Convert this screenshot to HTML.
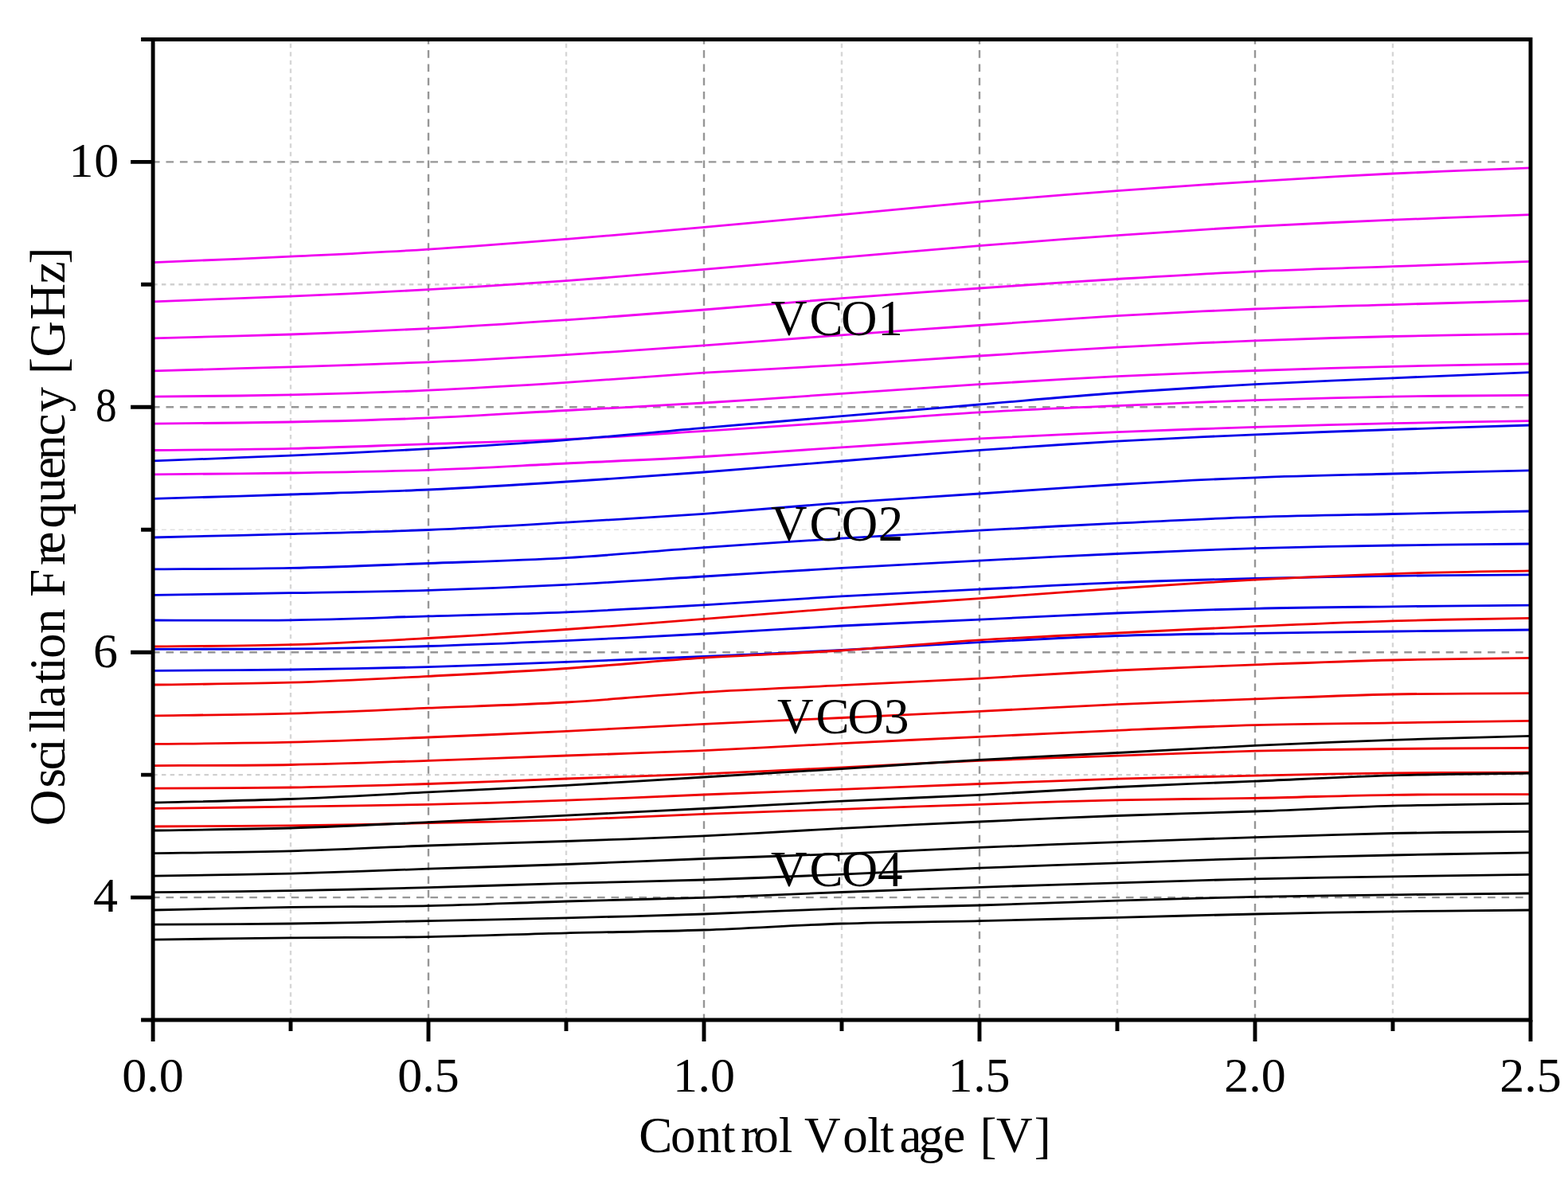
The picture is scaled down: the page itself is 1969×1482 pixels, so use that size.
<!DOCTYPE html>
<html><head><meta charset="utf-8"><title>VCO tuning curves</title>
<style>html,body{margin:0;padding:0;background:#fff;overflow:hidden;}svg{display:block;}text{font-family:"Liberation Serif","Times New Roman",serif;fill:#000;}</style></head><body>
<svg width="1969" height="1482" viewBox="0 0 1969 1482">
<rect width="1969" height="1482" fill="#fff"/>
<g stroke="#d6d6d6" stroke-width="2.4" stroke-dasharray="5.5 4.95" fill="none"><line x1="365" y1="1283" x2="365" y2="49.5"/><line x1="711" y1="1283" x2="711" y2="49.5"/><line x1="1057" y1="1283" x2="1057" y2="49.5"/><line x1="1403" y1="1283" x2="1403" y2="49.5"/><line x1="1749" y1="1283" x2="1749" y2="49.5"/></g>
<g stroke="#d0d0d0" stroke-width="2.4" stroke-dasharray="5.5 5.22" fill="none"><line x1="192.2" y1="973.1" x2="1922" y2="973.1"/><line x1="192.2" y1="357.3" x2="1922" y2="357.3"/></g>
<line x1="192.2" y1="665.2" x2="1922" y2="665.2" stroke="#d2d2d2" stroke-width="1" stroke-dasharray="6 4.72"/>
<g stroke="#969696" stroke-width="2.4" stroke-dasharray="9.6 7.69" fill="none"><line x1="538" y1="1283" x2="538" y2="49.5"/><line x1="884" y1="1283" x2="884" y2="49.5"/><line x1="1230" y1="1283" x2="1230" y2="49.5"/><line x1="1576" y1="1283" x2="1576" y2="49.5"/></g>
<g stroke="#969696" stroke-width="2.4" stroke-dasharray="9.6 7.87" fill="none"><line x1="191" y1="1127.1" x2="1922" y2="1127.1"/><line x1="191" y1="819.2" x2="1922" y2="819.2"/><line x1="191" y1="511.3" x2="1922" y2="511.3"/><line x1="191" y1="203.4" x2="1922" y2="203.4"/></g>
<g fill="none" stroke="#f000f0" stroke-width="2.8" stroke-linejoin="round"><path d="M192.1,329.6C220.9,328.4 307.3,324.9 365,322.2C422.7,319.4 480.3,316.8 538,313.1C595.7,309.5 653.3,304.9 711,300.3C768.7,295.7 826.3,290.5 884,285.4C941.7,280.3 999.3,274.9 1057,269.6C1114.7,264.3 1172.3,258.4 1230,253.4C1287.7,248.4 1345.3,243.9 1403,239.6C1460.7,235.3 1518.3,231.4 1576,227.8C1633.7,224.2 1691.3,220.8 1749,218C1806.7,215.2 1893.2,212.1 1922,210.9"/><path d="M192.1,378.8C220.9,377.7 307.3,374.6 365,372.1C422.7,369.6 480.3,366.9 538,363.7C595.7,360.4 653.3,356.8 711,352.6C768.7,348.4 826.3,343.3 884,338.4C941.7,333.5 999.3,328.2 1057,323.3C1114.7,318.4 1172.3,313.3 1230,308.7C1287.7,304.1 1345.3,299.7 1403,295.6C1460.7,291.6 1518.3,287.6 1576,284.4C1633.7,281.2 1691.3,278.7 1749,276.2C1806.7,273.7 1893.2,270.7 1922,269.6"/><path d="M192.1,424.8C220.9,424 307.3,422 365,420C422.7,418 480.3,415.6 538,412.6C595.7,409.6 653.3,405.7 711,401.8C768.7,397.9 826.3,393.5 884,389C941.7,384.5 999.3,379.1 1057,374.6C1114.7,370.1 1172.3,366 1230,362C1287.7,358 1345.3,354 1403,350.5C1460.7,347 1518.3,343.4 1576,340.8C1633.7,338.2 1691.3,336.8 1749,334.7C1806.7,332.6 1893.2,329.4 1922,328.4"/><path d="M192.1,465.8C220.9,465 307.3,462.6 365,460.8C422.7,459 480.3,457.3 538,454.8C595.7,452.3 653.3,449.1 711,445.6C768.7,442.1 826.3,437.9 884,433.8C941.7,429.7 999.3,425 1057,420.8C1114.7,416.6 1172.3,412.5 1230,408.5C1287.7,404.5 1345.3,400.1 1403,396.7C1460.7,393.3 1518.3,390.4 1576,388C1633.7,385.6 1691.3,384.3 1749,382.6C1806.7,380.9 1893.2,378.4 1922,377.6"/><path d="M192.1,498.2C220.9,497.8 307.3,497.2 365,495.9C422.7,494.6 480.3,492.8 538,490.2C595.7,487.6 653.3,484.1 711,480.4C768.7,476.7 826.3,471.9 884,468.2C941.7,464.5 999.3,461.9 1057,458.4C1114.7,454.9 1172.3,450.7 1230,447C1287.7,443.3 1345.3,439.4 1403,436.2C1460.7,433 1518.3,430.1 1576,427.8C1633.7,425.5 1691.3,423.9 1749,422.5C1806.7,421.1 1893.2,419.7 1922,419.1"/><path d="M192.1,532.1C220.9,531.8 307.3,531.2 365,530C422.7,528.8 480.3,527.3 538,524.9C595.7,522.5 653.3,518.6 711,515.5C768.7,512.4 826.3,509.5 884,506C941.7,502.5 999.3,498.3 1057,494.4C1114.7,490.5 1172.3,486.3 1230,482.7C1287.7,479.1 1345.3,475.5 1403,472.6C1460.7,469.7 1518.3,467.6 1576,465.5C1633.7,463.4 1691.3,461.7 1749,460.3C1806.7,458.9 1893.2,457.5 1922,456.9"/><path d="M192.1,565.5C220.9,565.1 307.3,564.7 365,563.4C422.7,562.1 480.3,559.5 538,557.6C595.7,555.7 653.3,554.4 711,551.7C768.7,549 826.3,545 884,541.4C941.7,537.8 999.3,533.9 1057,530C1114.7,526.1 1172.3,521.2 1230,517.8C1287.7,514.4 1345.3,512.2 1403,509.7C1460.7,507.2 1518.3,504.5 1576,502.6C1633.7,500.7 1691.3,499.2 1749,498.1C1806.7,497.1 1893.2,496.6 1922,496.3"/><path d="M192.1,595.8C220.9,595.5 307.3,594.9 365,594C422.7,593.1 480.3,592.3 538,590.3C595.7,588.3 653.3,584.8 711,582C768.7,579.2 826.3,576.9 884,573.5C941.7,570.1 999.3,565.6 1057,561.8C1114.7,558 1172.3,554.1 1230,550.9C1287.7,547.7 1345.3,545.1 1403,542.7C1460.7,540.3 1518.3,538.2 1576,536.4C1633.7,534.6 1691.3,533 1749,531.7C1806.7,530.4 1893.2,529.1 1922,528.6"/></g>
<g fill="none" stroke="#0000e8" stroke-width="2.8" stroke-linejoin="round"><path d="M192.1,578.9C220.9,577.8 307.3,574.6 365,572.1C422.7,569.6 480.3,567 538,563.7C595.7,560.5 653.3,557 711,552.6C768.7,548.2 826.3,542.4 884,537.4C941.7,532.4 999.3,527.6 1057,522.7C1114.7,517.8 1172.3,512.9 1230,508C1287.7,503.1 1345.3,497.7 1403,493.5C1460.7,489.3 1518.3,485.8 1576,482.7C1633.7,479.6 1691.3,477.3 1749,474.8C1806.7,472.3 1893.2,468.9 1922,467.7"/><path d="M192.1,626.4C220.9,625.5 307.3,622.9 365,621C422.7,619.1 480.3,617.7 538,615C595.7,612.3 653.3,608.7 711,605C768.7,601.3 826.3,597.3 884,593C941.7,588.7 999.3,583.6 1057,579C1114.7,574.4 1172.3,569.5 1230,565.4C1287.7,561.3 1345.3,557.5 1403,554.2C1460.7,550.9 1518.3,548.2 1576,545.8C1633.7,543.3 1691.3,541.5 1749,539.5C1806.7,537.5 1893.2,534.9 1922,534"/><path d="M192.1,675C220.9,674.3 307.3,672.2 365,670.6C422.7,669 480.3,667.9 538,665.5C595.7,663.1 653.3,659.5 711,656.1C768.7,652.7 826.3,649.4 884,645.3C941.7,641.2 999.3,635.6 1057,631.4C1114.7,627.2 1172.3,623.8 1230,620C1287.7,616.2 1345.3,611.9 1403,608.5C1460.7,605.1 1518.3,602 1576,599.8C1633.7,597.5 1691.3,596.5 1749,595C1806.7,593.5 1893.2,591.5 1922,590.8"/><path d="M192.1,714.9C220.9,714.6 307.3,714.6 365,713.4C422.7,712.2 480.3,709.6 538,707.5C595.7,705.4 653.3,703.9 711,700.6C768.7,697.3 826.3,691.7 884,687.6C941.7,683.5 999.3,679.8 1057,676.2C1114.7,672.6 1172.3,669.4 1230,666.2C1287.7,663 1345.3,659.9 1403,657.1C1460.7,654.3 1518.3,651.3 1576,649.4C1633.7,647.5 1691.3,646.7 1749,645.5C1806.7,644.3 1893.2,642.6 1922,642"/><path d="M192.1,747.3C220.9,746.9 307.3,745.7 365,744.7C422.7,743.7 480.3,743 538,741.3C595.7,739.6 653.3,737.3 711,734.4C768.7,731.5 826.3,727.5 884,724C941.7,720.5 999.3,716.7 1057,713.4C1114.7,710.1 1172.3,707.1 1230,704.1C1287.7,701.1 1345.3,698.1 1403,695.5C1460.7,692.9 1518.3,690.4 1576,688.6C1633.7,686.9 1691.3,685.9 1749,685C1806.7,684.1 1893.2,683.3 1922,683"/><path d="M192.1,779C220.9,779 307.3,779.6 365,778.8C422.7,777.9 480.3,775.6 538,773.9C595.7,772.2 653.3,771.1 711,768.8C768.7,766.4 826.3,763.1 884,759.8C941.7,756.5 999.3,752.1 1057,748.8C1114.7,745.5 1172.3,743.1 1230,740.2C1287.7,737.3 1345.3,733.9 1403,731.6C1460.7,729.3 1518.3,727.9 1576,726.5C1633.7,725.1 1691.3,724.1 1749,723.3C1806.7,722.5 1893.2,722.1 1922,721.9"/><path d="M192.1,815.3C220.9,815.2 307.3,815.5 365,814.9C422.7,814.3 480.3,813.2 538,811.5C595.7,809.8 653.3,807.2 711,804.6C768.7,802 826.3,799.1 884,796C941.7,792.9 999.3,789 1057,786C1114.7,783 1172.3,780.8 1230,778.1C1287.7,775.4 1345.3,772.3 1403,770C1460.7,767.7 1518.3,765.7 1576,764.3C1633.7,762.9 1691.3,762.5 1749,761.8C1806.7,761.1 1893.2,760.4 1922,760.1"/><path d="M192.1,842.3C220.9,842.1 307.3,841.8 365,841C422.7,840.2 480.3,839.2 538,837.6C595.7,836 653.3,833.6 711,831.4C768.7,829.2 826.3,827 884,824.5C941.7,822 999.3,819.5 1057,816.5C1114.7,813.5 1172.3,809.6 1230,806.6C1287.7,803.6 1345.3,800.4 1403,798.5C1460.7,796.6 1518.3,796.2 1576,795.3C1633.7,794.4 1691.3,793.7 1749,793C1806.7,792.3 1893.2,791.3 1922,791"/></g>
<g fill="none" stroke="#ee0000" stroke-width="2.8" stroke-linejoin="round"><path d="M192.1,812C220.9,811.6 307.3,811.5 365,809.7C422.7,808 480.3,804.7 538,801.5C595.7,798.3 653.3,794.5 711,790.5C768.7,786.5 826.3,781.9 884,777.4C941.7,772.9 999.3,767.9 1057,763.6C1114.7,759.3 1172.3,755.7 1230,751.6C1287.7,747.5 1345.3,742.9 1403,739C1460.7,735.1 1518.3,731.3 1576,728.2C1633.7,725.1 1691.3,722.5 1749,720.6C1806.7,718.7 1893.2,717.5 1922,716.9"/><path d="M192.1,860C220.9,859.5 307.3,859 365,857.2C422.7,855.4 480.3,852.2 538,849.3C595.7,846.3 653.3,843.4 711,839.5C768.7,835.6 826.3,830 884,826.2C941.7,822.5 999.3,820.7 1057,817C1114.7,813.3 1172.3,807.6 1230,803.9C1287.7,800.2 1345.3,797.9 1403,795C1460.7,792.1 1518.3,789.2 1576,786.7C1633.7,784.2 1691.3,781.5 1749,779.8C1806.7,778.1 1893.2,776.9 1922,776.3"/><path d="M192.1,898.8C220.9,898.3 307.3,897.7 365,896.1C422.7,894.5 480.3,891.6 538,889.2C595.7,886.9 653.3,885.3 711,882C768.7,878.7 826.3,872.8 884,869.3C941.7,865.8 999.3,863.6 1057,860.7C1114.7,857.8 1172.3,855.2 1230,852.1C1287.7,849 1345.3,844.9 1403,842C1460.7,839.1 1518.3,837.1 1576,834.9C1633.7,832.7 1691.3,830.4 1749,829C1806.7,827.6 1893.2,826.8 1922,826.4"/><path d="M192.1,934.4C220.9,934 307.3,933.6 365,932.2C422.7,930.8 480.3,928.3 538,926C595.7,923.7 653.3,921.1 711,918.3C768.7,915.5 826.3,912.1 884,909.3C941.7,906.5 999.3,904.1 1057,901.5C1114.7,898.9 1172.3,896.2 1230,893.4C1287.7,890.6 1345.3,887.3 1403,884.7C1460.7,882.1 1518.3,880 1576,877.9C1633.7,875.8 1691.3,873.2 1749,872C1806.7,870.8 1893.2,870.9 1922,870.7"/><path d="M192.1,961.6C220.9,961.4 307.3,961.5 365,960.5C422.7,959.5 480.3,957.2 538,955.3C595.7,953.4 653.3,951.1 711,949C768.7,946.9 826.3,945.2 884,942.6C941.7,940 999.3,936.5 1057,933.6C1114.7,930.7 1172.3,928.1 1230,925.4C1287.7,922.7 1345.3,919.9 1403,917.4C1460.7,914.9 1518.3,912.2 1576,910.6C1633.7,909 1691.3,908.7 1749,907.8C1806.7,906.9 1893.2,905.7 1922,905.3"/><path d="M192.1,990.1C220.9,989.9 307.3,989.9 365,989C422.7,988.1 480.3,986.3 538,984.5C595.7,982.7 653.3,980.1 711,978C768.7,975.9 826.3,974.1 884,971.8C941.7,969.4 999.3,966.6 1057,963.9C1114.7,961.1 1172.3,957.8 1230,955.3C1287.7,952.8 1345.3,951.2 1403,949.2C1460.7,947.2 1518.3,944.7 1576,943.2C1633.7,941.8 1691.3,941.1 1749,940.5C1806.7,939.9 1893.2,939.6 1922,939.4"/><path d="M192.1,1015.4C220.9,1015 307.3,1014 365,1013.1C422.7,1012.2 480.3,1011.6 538,1010.3C595.7,1009 653.3,1007.2 711,1005.2C768.7,1003.2 826.3,1000.3 884,998C941.7,995.7 999.3,993.6 1057,991.4C1114.7,989.1 1172.3,986.7 1230,984.5C1287.7,982.3 1345.3,979.9 1403,978.2C1460.7,976.5 1518.3,975.4 1576,974.2C1633.7,973 1691.3,971.5 1749,970.8C1806.7,970.1 1893.2,970.2 1922,970.1"/><path d="M192.1,1038C220.9,1037.8 307.3,1037.6 365,1036.9C422.7,1036.2 480.3,1034.9 538,1033.7C595.7,1032.5 653.3,1031.5 711,1029.6C768.7,1027.7 826.3,1024.5 884,1022.3C941.7,1020.1 999.3,1018.3 1057,1016.3C1114.7,1014.3 1172.3,1012.2 1230,1010.3C1287.7,1008.4 1345.3,1006.1 1403,1004.8C1460.7,1003.5 1518.3,1003.5 1576,1002.4C1633.7,1001.3 1691.3,999.1 1749,998.3C1806.7,997.5 1893.2,997.8 1922,997.7"/></g>
<g fill="none" stroke="#000000" stroke-width="2.8" stroke-linejoin="round"><path d="M192.1,1008C220.9,1007.2 307.3,1005.7 365,1003.5C422.7,1001.3 480.3,997.8 538,994.9C595.7,992 653.3,989.4 711,986.3C768.7,983.1 826.3,979.5 884,976C941.7,972.5 999.3,969.2 1057,965.6C1114.7,962 1172.3,957.6 1230,954.3C1287.7,950.9 1345.3,948.5 1403,945.5C1460.7,942.5 1518.3,939.1 1576,936.4C1633.7,933.7 1691.3,931.3 1749,929.3C1806.7,927.3 1893.2,925.1 1922,924.3"/><path d="M192.1,1043C220.9,1042.5 307.3,1041.7 365,1040C422.7,1038.3 480.3,1035.4 538,1032.7C595.7,1030 653.3,1027 711,1024.1C768.7,1021.2 826.3,1018.5 884,1015.5C941.7,1012.5 999.3,1009.1 1057,1006.2C1114.7,1003.3 1172.3,1001.2 1230,998.3C1287.7,995.3 1345.3,991.4 1403,988.5C1460.7,985.6 1518.3,983.6 1576,981.1C1633.7,978.6 1691.3,975.5 1749,973.8C1806.7,972.1 1893.2,971.5 1922,971"/><path d="M192.1,1071.7C220.9,1071.2 307.3,1070.5 365,1068.9C422.7,1067.3 480.3,1064.1 538,1062C595.7,1059.9 653.3,1058.5 711,1056.5C768.7,1054.5 826.3,1052.6 884,1049.9C941.7,1047.2 999.3,1043.3 1057,1040.3C1114.7,1037.3 1172.3,1034.6 1230,1032C1287.7,1029.4 1345.3,1026.7 1403,1024.5C1460.7,1022.3 1518.3,1021.1 1576,1019C1633.7,1016.9 1691.3,1013.8 1749,1012.1C1806.7,1010.5 1893.2,1009.6 1922,1009.1"/><path d="M192.1,1100.2C220.9,1099.7 307.3,1098.6 365,1097.1C422.7,1095.6 480.3,1093.1 538,1091.2C595.7,1089.3 653.3,1087.6 711,1085.5C768.7,1083.4 826.3,1080.7 884,1078.5C941.7,1076.3 999.3,1074.6 1057,1072.3C1114.7,1070 1172.3,1066.9 1230,1064.4C1287.7,1062 1345.3,1059.7 1403,1057.6C1460.7,1055.5 1518.3,1053.4 1576,1051.6C1633.7,1049.8 1691.3,1047.7 1749,1046.5C1806.7,1045.3 1893.2,1044.7 1922,1044.3"/><path d="M192.1,1120.7C220.9,1120.4 307.3,1119.7 365,1118.7C422.7,1117.7 480.3,1116.1 538,1114.6C595.7,1113 653.3,1111 711,1109.4C768.7,1107.8 826.3,1106.9 884,1105C941.7,1103.1 999.3,1100.6 1057,1098.1C1114.7,1095.6 1172.3,1092.6 1230,1090.2C1287.7,1087.8 1345.3,1085.8 1403,1083.8C1460.7,1081.8 1518.3,1079.7 1576,1078.1C1633.7,1076.5 1691.3,1075.2 1749,1074C1806.7,1072.8 1893.2,1071.3 1922,1070.8"/><path d="M192.1,1143C220.9,1142.4 307.3,1140.3 365,1139.4C422.7,1138.5 480.3,1138.9 538,1137.7C595.7,1136.5 653.3,1133.7 711,1132C768.7,1130.3 826.3,1129.2 884,1127.3C941.7,1125.4 999.3,1122.7 1057,1120.5C1114.7,1118.3 1172.3,1116.2 1230,1114.3C1287.7,1112.3 1345.3,1110.5 1403,1108.8C1460.7,1107.1 1518.3,1105.2 1576,1103.9C1633.7,1102.6 1691.3,1101.7 1749,1100.8C1806.7,1099.9 1893.2,1098.7 1922,1098.3"/><path d="M192.1,1161.1C220.9,1160.9 307.3,1160.8 365,1160C422.7,1159.2 480.3,1157.8 538,1156.6C595.7,1155.4 653.3,1154.2 711,1152.8C768.7,1151.4 826.3,1150 884,1148C941.7,1146 999.3,1142.9 1057,1141.1C1114.7,1139.3 1172.3,1138.7 1230,1137C1287.7,1135.3 1345.3,1133 1403,1131.2C1460.7,1129.4 1518.3,1127.5 1576,1126.3C1633.7,1125.1 1691.3,1124.5 1749,1123.8C1806.7,1123.1 1893.2,1122.3 1922,1122"/><path d="M192.1,1180.1C220.9,1179.7 307.3,1178.5 365,1177.9C422.7,1177.3 480.3,1177.6 538,1176.6C595.7,1175.6 653.3,1173.2 711,1171.8C768.7,1170.4 826.3,1170 884,1168C941.7,1166 999.3,1161.9 1057,1160C1114.7,1158.1 1172.3,1157.9 1230,1156.6C1287.7,1155.3 1345.3,1153.7 1403,1152.3C1460.7,1150.9 1518.3,1149.2 1576,1148C1633.7,1146.8 1691.3,1145.6 1749,1144.8C1806.7,1144 1893.2,1143.3 1922,1143"/></g>
<g fill="none" stroke="#000" stroke-width="4.9" stroke-linecap="butt"><path d="M192.1,49.5 H1922 V1281 H192.1 Z"/><path d="M164.1,1127.1H192.1M164.1,819.2H192.1M164.1,511.3H192.1M164.1,203.4H192.1M177.1,1281H192.1M177.1,973.1H192.1M177.1,665.2H192.1M177.1,357.3H192.1M177.1,49.5H192.1M192.1,1281V1308M538,1281V1308M884,1281V1308M1230,1281V1308M1576,1281V1308M1922,1281V1308M365,1281V1295M711,1281V1295M1057,1281V1295M1403,1281V1295M1749,1281V1295"/></g>
<g font-size="62"><text x="192.1" y="1371" text-anchor="middle">0.0</text><text x="538" y="1371" text-anchor="middle">0.5</text><text x="1576" y="1371" text-anchor="middle">2.0</text><text x="1922" y="1371" text-anchor="middle">2.5</text><text x="845.1 876.4 892.1" y="1371">1.0</text><text x="1190.6 1222.2 1237.5" y="1371">1.5</text><text font-size="62" x="148" y="1145.4" text-anchor="end">4</text><text font-size="62" x="148" y="837.5" text-anchor="end">6</text><text font-size="62" x="117.8" y="528.9" transform="translate(133.3,0) scale(0.86,1) translate(-133.3,0)">8</text><text x="86.5 118.3" y="221.7">10</text></g>
<text font-size="63" x="802.2 842 874.7 906.1 930.2 946.2 977.8 997.8 1010 1058.2 1089.2 1105.3 1129.5 1153.6 1184.3 1204.3 1230.5 1250.9 1298.7" y="1447.2">Control Voltage [V]</text>
<text font-size="63" transform="translate(80.6,0) rotate(-90)" x="-1037.2 -989.5 -967.4 -944.4 -920.1 -905.3 -888.4 -858.3 -842.4 -827.1 -795.9 -775.9 -749.7 -710 -695.6 -663.4 -631.6 -601.7 -577.7 -547.6 -517.4 -497.4 -470 -448.4 -401.4 -356.3 -331.4" y="0">Oscillation Frequency [GHz]</text>
<text font-size="63" x="968.1 1016.4 1056 1102.2" y="420.7">VCO1</text>
<text font-size="63" x="968.1 1016.4 1056.7 1102.7" y="678.9">VCO2</text>
<text font-size="63" x="975.9 1024.4 1064.4 1110.1" y="920.6">VCO3</text>
<text font-size="63" x="968.1 1016.4 1056.7 1102" y="1112.9">VCO4</text>
</svg>
</body></html>
